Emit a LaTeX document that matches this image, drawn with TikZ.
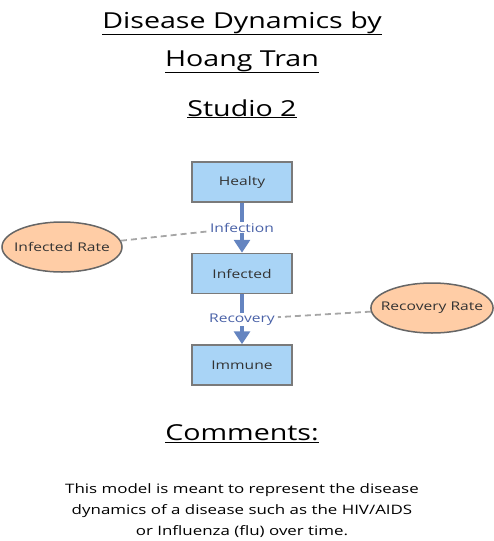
\documentclass[tikz,border=0pt]{standalone}
\usepackage{fontspec}
\setmainfont{Open Sans}[FakeStretch=1.3]
\usetikzlibrary{shapes.geometric, arrows.meta, positioning}
\definecolor{stockfill}{HTML}{A9D4F6}
\definecolor{stockline}{HTML}{7A7A7A}
\definecolor{varfill}{HTML}{FFCDA6}
\definecolor{varline}{HTML}{666666}
\definecolor{flowblue}{HTML}{6484C0}
\definecolor{labelblue}{HTML}{4A62A8}
\definecolor{textgray}{HTML}{333333}
\tikzstyle{stock} = [rectangle, draw=stockline, line width=1.5pt, fill=stockfill, minimum width=100pt, minimum height=40pt, font=\fontsize{12}{14}\selectfont, text=textgray]
\tikzstyle{ratevar} = [ellipse, draw=varline, line width=1.5pt, fill=varfill, minimum width=120pt, minimum height=50pt, inner xsep=-8pt, inner ysep=0pt, font=\fontsize{12}{14}\selectfont, text=textgray]
\tikzstyle{flow} = [line width=4pt, draw=flowblue, -{Triangle[width=16pt,length=13pt]}]
\tikzstyle{flowlabel} = [fill=white, text=labelblue, inner sep=1pt, font=\fontsize{12}{14}\selectfont]
\tikzstyle{link} = [line width=1.8pt, draw=gray!70, dash pattern=on 6pt off 4pt]
\tikzstyle{title} = [anchor=base, font=\fontsize{22}{26}\selectfont]

\begin{document}
\begin{tikzpicture}[x=1pt, y=1pt, node distance=50pt]
                \useasboundingbox (0,0) rectangle (494,-541);

                \node (t1) [title] at (242,-28) {\underline{Disease Dynamics by}};
                \node (t2) [title] at (242,-66) {\underline{Hoang Tran}};
                \node (t3) [title] at (242,-116) {\underline{Studio 2}};

                \node (healty) [stock] at (242,-182) {Healty};
                \node (infected) [stock, below=of healty] {Infected};
                \node (immune) [stock, below=of infected] {Immune};

                \node (irate) [ratevar] at (62,-247) {Infected Rate};
                \node (rrate) [ratevar] at (432,-308) {Recovery Rate};

                \draw [flow] (healty) -- node (infection) [flowlabel] {Infection} (infected);
                \draw [flow] (infected) -- node (recovery) [flowlabel] {Recovery} (immune);

                \draw [link] (irate) -- (infection);
                \draw [link] (rrate) -- (recovery);

                \node (comments) [title] at (242,-440) {\underline{Comments:}};
                \node (note) [align=center, font=\fontsize{13}{21}\selectfont] at (242,-511)
                    {This model is meant to represent the disease\\
                     dynamics of a disease such as the HIV/AIDS\\
                     or Influenza (flu) over time.};
            \end{tikzpicture}
\end{document}
